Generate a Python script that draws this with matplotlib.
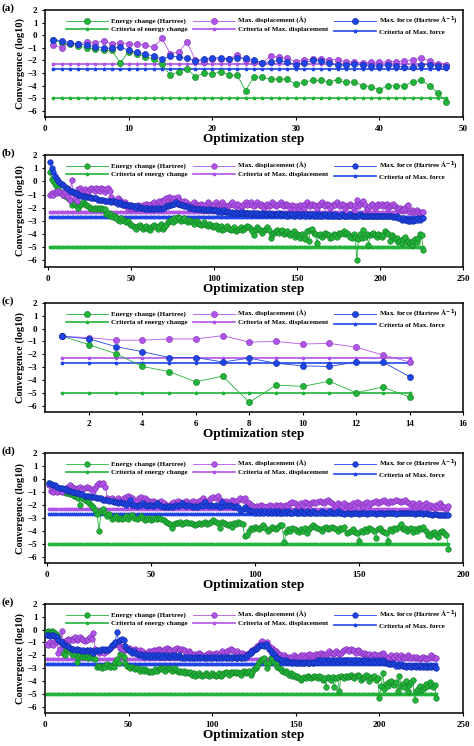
import matplotlib
matplotlib.use("Agg")
import matplotlib.pyplot as plt
import numpy as np

plt.rcParams['font.family'] = ['Liberation Serif', 'DejaVu Serif']
plt.rcParams['font.weight'] = 'bold'

# ---------------- Data ----------------
a_energy = [-0.4,-0.6,-0.7,-0.85,-1.0,-1.1,-1.2,-1.2,-2.2,-1.3,-1.5,-1.7,-1.9,-2.3,-3.2,-2.9,-2.7,-3.3,-3.0,-3.1,
            -2.9,-3.15,-3.2,-4.4,-3.3,-3.35,-3.5,-3.5,-3.5,-3.9,-3.7,-3.6,-3.6,-3.7,-3.55,-3.75,-3.7,-4.0,-4.1,-4.35,
            -4.0,-4.05,-4.0,-3.7,-3.6,-4.0,-4.6,-5.3]
a_disp = [-0.8,-1.0,-0.6,-0.7,-0.55,-0.6,-0.45,-0.7,-0.6,-0.7,-0.7,-0.8,-0.95,-0.25,-1.5,-1.3,-0.55,-2.0,-2.1,-1.9,
          -1.9,-1.9,-1.55,-2.0,-2.1,-2.2,-1.65,-1.75,-1.85,-2.1,-1.95,-1.9,-1.9,-1.95,-1.95,-2.1,-2.15,-2.2,-2.15,-2.15,
          -2.1,-2.1,-2.05,-1.95,-1.85,-2.05,-2.3,-2.35]
a_force = [-0.35,-0.45,-0.6,-0.7,-0.8,-0.9,-1.0,-1.05,-0.95,-1.2,-1.35,-1.5,-1.65,-1.9,-1.65,-1.75,-1.85,-2.05,-1.9,-1.8,
           -1.8,-1.9,-1.8,-1.85,-1.95,-2.2,-2.1,-2.0,-2.15,-2.35,-2.2,-2.0,-2.05,-2.2,-2.4,-2.35,-2.3,-2.4,-2.45,-2.45,
           -2.4,-2.45,-2.5,-2.55,-2.35,-2.35,-2.45,-2.55]

b_energy = [0.7,0.2,0.0,-0.2,-0.4,-0.6,-0.8,-0.9,-1.0,-1.1,
 -1.2,-1.3,-1.4,-1.8,-1.6,-1.7,-1.9,-2.0,-1.8,-1.7,
 -1.6,-1.7,-1.8,-1.9,-2.0,-2.0,-2.1,-2.0,-2.1,-2.0,
 -2.1,-2.0,-2.1,-2.1,-2.5,-2.4,-2.6,-2.5,-2.7,-2.6,
 -2.8,-2.9,-3.0,-2.8,-2.9,-3.0,-3.1,-3.0,-3.2,-3.3,
 -3.4,-3.5,-3.6,-3.4,-3.3,-3.5,-3.6,-3.5,-3.4,-3.6,
 -3.7,-3.5,-3.4,-3.3,-3.5,-3.6,-3.4,-3.2,-3.6,-3.5,
 -3.3,-3.1,-3.0,-2.9,-3.1,-2.8,-2.9,-2.7,-2.8,-3.0,
 -2.9,-2.8,-3.0,-3.1,-2.9,-3.0,-3.1,-3.2,-3.0,-3.1,
 -3.2,-3.3,-3.2,-3.1,-3.3,-3.4,-3.2,-3.3,-3.5,-3.4,
 -3.3,-3.6,-3.5,-3.4,-3.7,-3.6,-3.5,-3.4,-3.6,-3.7,
 -3.6,-3.5,-3.8,-3.7,-3.6,-3.5,-3.7,-3.6,-3.5,-3.4,
 -3.5,-3.6,-3.8,-4.1,-3.7,-3.5,-3.6,-3.8,-3.9,-3.7,
 -3.6,-3.5,-3.7,-4.3,-4.0,-3.9,-3.8,-3.7,-3.9,-3.8,
 -3.7,-4.0,-3.9,-3.8,-4.0,-4.1,-3.9,-3.8,-4.2,-4.0,
 -4.1,-4.3,-4.0,-4.2,-4.4,-3.8,-4.5,-3.7,-3.6,-3.9,
 -4.0,-4.7,-4.1,-4.0,-4.2,-4.1,-3.9,-4.0,-4.1,-4.3,
 -4.2,-4.0,-4.1,-4.2,-3.9,-4.0,-3.9,-3.8,-4.0,-3.9,
 -4.1,-4.2,-4.3,-4.0,-4.2,-6.0,-4.4,-4.0,-4.3,-3.7,
 -4.2,-4.0,-4.8,-4.1,-4.0,-3.9,-4.1,-4.2,-4.0,-4.1,
 -4.2,-4.1,-3.8,-3.9,-4.0,-4.5,-4.1,-4.2,-4.4,-4.3,
 -4.6,-4.5,-4.7,-4.4,-4.2,-4.6,-4.5,-4.7,-4.8,-4.5,
 -4.4,-4.6,-4.3,-4.0,-4.1,-5.2]
b_disp = [-1.0,-0.9,-1.0,-0.8,-0.9,-0.7,-0.8,-0.9,-1.0,-0.8,
 -1.0,-1.2,-1.4,0.1,-0.9,-1.3,-1.5,-0.6,-0.5,-0.7,
 -0.8,-0.6,-0.7,-0.8,-0.6,-0.5,-0.6,-0.7,-0.5,-0.6,
 -0.7,-0.5,-0.6,-0.8,-0.6,-0.5,-0.7,-1.2,-1.4,-1.6,
 -1.5,-1.3,-1.4,-1.7,-1.8,-1.6,-1.9,-2.0,-1.8,-2.1,
 -2.0,-1.9,-2.0,-1.8,-1.9,-2.0,-1.8,-1.9,-1.7,-1.8,
 -1.9,-1.7,-1.8,-1.6,-1.7,-1.8,-1.5,-1.6,-1.4,-1.5,
 -1.3,-1.4,-1.2,-1.3,-1.4,-1.3,-1.5,-1.2,-1.4,-1.6,
 -1.7,-1.5,-1.6,-1.8,-1.7,-1.9,-1.8,-1.6,-1.7,-1.8,
 -1.9,-1.7,-1.8,-2.0,-1.8,-1.6,-1.7,-1.9,-1.8,-1.7,
 -1.6,-1.8,-1.9,-1.7,-1.6,-1.8,-1.9,-2.0,-1.8,-1.7,
 -1.6,-1.8,-1.9,-1.7,-1.8,-2.0,-1.9,-1.7,-1.6,-1.8,
 -1.7,-1.6,-1.8,-1.9,-1.7,-1.6,-1.8,-1.7,-1.9,-2.0,
 -1.8,-1.7,-1.9,-1.8,-1.6,-1.7,-1.9,-1.8,-1.7,-1.6,
 -1.8,-1.9,-1.7,-1.8,-1.9,-2.0,-1.8,-1.9,-2.1,-1.9,
 -2.0,-1.8,-1.9,-2.0,-1.7,-1.6,-1.8,-1.9,-1.7,-1.8,
 -1.9,-2.0,-1.8,-1.7,-1.6,-1.8,-1.9,-1.7,-1.8,-2.0,
 -1.9,-1.7,-1.8,-1.6,-1.8,-1.9,-1.7,-1.8,-2.0,-1.9,
 -1.8,-1.7,-1.9,-2.0,-1.8,-1.4,-1.9,-1.7,-1.6,-1.5,
 -1.8,-2.1,-2.0,-1.9,-1.7,-1.8,-2.0,-1.9,-1.7,-1.8,
 -1.7,-1.9,-1.8,-1.7,-2.0,-1.9,-1.8,-1.7,-1.9,-2.0,
 -2.1,-2.0,-2.2,-2.1,-2.0,-1.9,-1.8,-2.3,-2.2,-2.3,
 -2.3,-2.2,-2.3,-2.4,-2.3,-2.3]
b_force = [1.5,1.0,0.7,0.4,0.2,0.0,-0.1,-0.2,-0.3,-0.4,
 -0.5,-0.6,-0.7,-0.7,-0.8,-0.9,-0.9,-1.0,-1.0,-1.1,
 -1.1,-1.1,-1.2,-1.2,-1.2,-1.3,-1.3,-1.3,-1.3,-1.4,
 -1.4,-1.4,-1.4,-1.5,-1.5,-1.5,-1.5,-1.6,-1.5,-1.6,
 -1.6,-1.7,-1.6,-1.7,-1.8,-1.7,-1.8,-1.8,-1.9,-1.8,
 -1.9,-1.9,-2.0,-1.9,-2.0,-2.0,-2.0,-2.1,-2.0,-2.1,
 -2.1,-2.0,-2.1,-2.1,-2.0,-2.1,-2.0,-2.1,-2.0,-2.0,
 -1.9,-1.9,-1.8,-1.8,-1.7,-1.7,-1.6,-1.7,-1.7,-1.8,
 -1.8,-1.9,-1.9,-1.9,-2.0,-2.0,-2.0,-2.1,-2.1,-2.1,
 -2.1,-2.1,-2.2,-2.1,-2.2,-2.2,-2.1,-2.2,-2.2,-2.2,
 -2.2,-2.3,-2.2,-2.3,-2.3,-2.2,-2.3,-2.3,-2.3,-2.4,
 -2.3,-2.4,-2.3,-2.4,-2.4,-2.4,-2.3,-2.4,-2.4,-2.4,
 -2.4,-2.5,-2.4,-2.4,-2.5,-2.4,-2.5,-2.5,-2.4,-2.5,
 -2.5,-2.5,-2.4,-2.5,-2.5,-2.5,-2.5,-2.5,-2.4,-2.5,
 -2.5,-2.5,-2.5,-2.6,-2.5,-2.5,-2.5,-2.6,-2.5,-2.5,
 -2.5,-2.6,-2.5,-2.5,-2.6,-2.5,-2.6,-2.5,-2.5,-2.6,
 -2.5,-2.6,-2.5,-2.6,-2.6,-2.5,-2.5,-2.6,-2.6,-2.5,
 -2.6,-2.6,-2.5,-2.6,-2.6,-2.6,-2.5,-2.6,-2.6,-2.6,
 -2.6,-2.5,-2.6,-2.6,-2.6,-2.6,-2.6,-2.5,-2.6,-2.6,
 -2.6,-2.6,-2.6,-2.6,-2.6,-2.6,-2.6,-2.6,-2.6,-2.6,
 -2.6,-2.6,-2.6,-2.6,-2.6,-2.6,-2.6,-2.7,-2.7,-2.6,
 -2.8,-2.8,-2.9,-2.8,-2.9,-2.9,-3.0,-3.0,-2.9,-3.0,
 -2.9,-2.9,-2.8,-2.9,-2.8,-2.8]

c_energy = [-0.6,-1.25,-1.95,-2.95,-3.35,-4.15,-3.7,-5.75,-4.4,-4.5,-4.1,-5.0,-4.55,-5.35]
c_disp = [-0.6,-0.7,-0.9,-0.9,-0.8,-0.8,-0.55,-1.05,-1.0,-1.2,-1.15,-1.45,-2.05,-2.6]
c_force = [-0.6,-0.8,-1.4,-1.8,-2.25,-2.25,-2.6,-2.3,-2.7,-2.9,-2.95,-2.6,-2.6,-3.75]

d_energy = [-0.3,-0.4,-0.5,-0.6,-0.7,-0.8,-0.9,-1.0,-1.1,-1.1,
 -1.2,-1.2,-1.3,-1.3,-1.5,-2.0,-1.5,-1.6,-1.7,-1.9,
 -2.0,-2.2,-2.4,-2.7,-4.0,-2.5,-2.3,-2.6,-2.9,-2.7,
 -3.1,-3.0,-2.9,-3.1,-3.0,-3.1,-3.0,-2.9,-3.1,-2.9,
 -2.8,-3.0,-3.1,-3.0,-2.9,-3.0,-3.2,-3.1,-3.0,-3.2,
 -3.1,-3.0,-3.1,-3.0,-3.1,-3.2,-3.3,-3.4,-3.5,-3.8,
 -3.5,-3.4,-3.4,-3.3,-3.5,-3.4,-3.3,-3.4,-3.4,-3.5,
 -3.6,-3.5,-3.4,-3.5,-3.4,-3.3,-3.5,-3.4,-3.3,-3.2,
 -3.3,-3.4,-3.8,-3.3,-3.4,-3.5,-3.6,-3.5,-3.7,-3.4,
 -3.5,-3.3,-3.4,-3.5,-4.4,-4.3,-4.0,-3.8,-3.9,-3.7,
 -3.8,-3.9,-3.7,-3.6,-3.8,-4.0,-3.9,-3.7,-3.8,-3.9,
 -3.7,-3.6,-3.6,-4.9,-4.1,-3.9,-4.0,-3.8,-3.9,-4.0,
 -4.1,-3.9,-4.0,-3.8,-4.2,-3.9,-3.7,-3.6,-3.7,-3.8,
 -3.9,-4.0,-3.8,-3.7,-3.9,-3.8,-3.7,-3.8,-3.9,-4.0,
 -3.8,-3.9,-3.7,-4.2,-4.1,-4.0,-3.9,-4.1,-4.2,-4.8,
 -4.0,-4.1,-3.9,-4.0,-3.8,-3.9,-4.0,-4.6,-3.9,-3.8,
 -4.0,-4.1,-4.2,-4.8,-3.9,-4.0,-3.8,-3.9,-3.7,-3.5,
 -3.9,-3.8,-4.0,-3.9,-3.8,-4.1,-3.9,-4.0,-3.8,-3.9,
 -3.7,-4.0,-4.3,-4.4,-4.2,-4.1,-4.3,-4.5,-4.1,-4.0,
 -4.2,-4.3,-5.4]
d_disp = [-0.5,-0.9,-1.0,-0.8,-1.0,-0.9,-1.0,-0.8,-0.7,-0.6,
 -0.5,-0.6,-0.7,-0.8,-0.7,-0.6,-0.8,-0.7,-0.6,-0.7,
 -0.8,-0.9,-0.7,-0.5,-0.3,-0.4,-0.3,-0.6,-1.5,-1.6,
 -1.5,-1.6,-1.7,-1.5,-1.6,-1.7,-1.5,-1.4,-1.3,-1.4,
 -1.5,-1.6,-1.7,-1.5,-1.4,-1.6,-1.5,-1.6,-1.7,-1.8,
 -1.7,-1.8,-1.9,-1.8,-1.7,-1.9,-2.0,-2.1,-2.0,-1.9,
 -1.8,-1.9,-1.7,-1.8,-1.9,-1.8,-1.7,-1.9,-1.8,-1.7,
 -1.8,-1.9,-1.7,-1.6,-1.5,-1.7,-1.8,-1.6,-1.5,-1.4,
 -1.5,-1.3,-1.6,-1.7,-1.8,-1.7,-1.9,-1.8,-1.6,-1.7,
 -1.8,-1.6,-1.5,-1.6,-1.5,-1.8,-1.9,-2.0,-2.1,-2.2,
 -2.1,-2.2,-2.0,-2.1,-2.2,-2.1,-2.0,-2.1,-2.2,-2.0,
 -2.1,-2.0,-2.1,-2.2,-2.0,-2.1,-1.9,-1.8,-1.9,-2.0,
 -2.1,-1.9,-2.0,-1.8,-1.9,-2.0,-1.9,-1.8,-1.9,-1.8,
 -1.7,-1.8,-1.9,-1.7,-1.6,-1.8,-1.9,-2.0,-2.1,-1.9,
 -2.0,-2.1,-1.9,-2.0,-2.1,-2.0,-1.9,-2.0,-1.8,-1.9,
 -2.0,-2.1,-1.9,-1.8,-2.0,-1.9,-1.8,-1.7,-1.9,-1.8,
 -1.7,-1.6,-1.8,-1.9,-1.7,-1.8,-1.7,-1.6,-1.7,-1.8,
 -1.7,-1.6,-1.8,-1.9,-2.0,-1.9,-2.1,-2.0,-1.9,-2.1,
 -2.0,-1.9,-2.1,-2.0,-2.1,-2.2,-2.0,-2.1,-1.9,-2.1,
 -2.2,-2.3,-2.1]
d_force = [-0.3,-0.4,-0.5,-0.5,-0.6,-0.7,-0.7,-0.8,-0.8,-0.9,
 -0.9,-1.0,-1.0,-1.1,-1.1,-1.2,-1.2,-1.3,-1.3,-1.3,
 -1.4,-1.4,-1.4,-1.5,-1.5,-1.5,-1.6,-1.6,-1.6,-1.7,
 -1.7,-1.8,-1.8,-1.9,-1.8,-1.9,-1.9,-2.0,-1.9,-1.6,
 -2.0,-2.0,-2.1,-2.0,-2.0,-1.9,-2.0,-2.1,-2.0,-2.0,
 -2.1,-2.0,-1.9,-2.0,-2.1,-2.2,-2.1,-2.2,-2.1,-2.2,
 -2.1,-2.0,-2.1,-2.0,-1.9,-2.0,-2.1,-2.0,-2.1,-2.2,
 -2.1,-2.2,-2.1,-2.0,-2.1,-1.8,-2.0,-2.1,-2.0,-2.1,
 -2.0,-2.1,-2.2,-1.8,-2.1,-2.0,-2.1,-2.0,-2.1,-2.2,
 -2.1,-2.2,-2.4,-2.3,-2.2,-2.3,-2.4,-2.5,-2.5,-2.6,
 -2.5,-2.6,-2.5,-2.6,-2.5,-2.6,-2.5,-2.6,-2.5,-2.6,
 -2.5,-2.6,-2.6,-2.5,-2.6,-2.5,-2.6,-2.6,-2.5,-2.6,
 -2.6,-2.5,-2.6,-2.6,-2.5,-2.6,-2.6,-2.5,-2.6,-2.6,
 -2.6,-2.5,-2.6,-2.6,-2.6,-2.5,-2.6,-2.6,-2.6,-2.5,
 -2.6,-2.6,-2.7,-2.6,-2.6,-2.7,-2.6,-2.6,-2.6,-2.7,
 -2.6,-2.6,-2.6,-2.7,-2.6,-2.6,-2.6,-2.7,-2.6,-2.6,
 -2.6,-2.7,-2.6,-2.6,-2.6,-2.6,-2.6,-2.7,-2.6,-2.6,
 -2.6,-2.6,-2.6,-2.6,-2.6,-2.6,-2.7,-2.6,-2.6,-2.6,
 -2.7,-2.6,-2.7,-2.7,-2.8,-2.7,-2.7,-2.8,-2.8,-2.8,
 -2.8,-2.8,-2.8]

e_energy = [-0.2,-0.1,-0.2,-0.1,-0.2,-0.3,-0.4,-0.6,-1.0,-1.5,
 -1.8,-2.0,-1.6,-1.5,-1.7,-1.9,-2.0,-1.8,-2.5,-2.1,
 -2.0,-2.1,-2.0,-2.1,-2.0,-2.2,-2.1,-2.0,-2.2,-2.3,
 -2.9,-2.8,-2.9,-3.0,-2.8,-2.9,-2.7,-2.8,-2.9,-2.8,
 -2.9,-2.5,-2.3,-2.6,-1.9,-1.8,-2.1,-2.6,-2.8,-2.9,
 -3.0,-2.9,-3.0,-3.1,-3.0,-3.1,-3.2,-3.1,-3.2,-3.1,
 -3.2,-3.3,-3.2,-3.3,-3.2,-3.1,-3.2,-3.1,-3.0,-3.1,
 -3.0,-3.2,-3.1,-3.0,-3.1,-3.2,-3.1,-3.0,-3.2,-3.3,
 -3.2,-3.3,-3.2,-3.4,-3.3,-3.4,-3.3,-3.5,-3.4,-3.6,
 -3.5,-3.4,-3.5,-3.6,-3.5,-3.4,-3.5,-3.6,-3.5,-3.4,
 -3.5,-3.6,-3.5,-3.4,-3.6,-3.5,-3.4,-3.3,-3.4,-3.5,
 -3.3,-3.4,-3.3,-3.4,-3.3,-3.4,-3.5,-3.3,-3.2,-3.4,
 -3.3,-3.2,-3.5,-3.3,-3.1,-3.0,-2.8,-2.5,-2.4,-2.3,
 -2.2,-2.6,-3.0,-2.6,-2.2,-2.3,-2.5,-2.7,-2.9,-3.0,
 -3.1,-3.2,-3.3,-3.2,-3.4,-3.5,-3.4,-3.6,-3.5,-3.7,
 -3.6,-3.8,-3.9,-3.8,-3.7,-3.8,-3.6,-3.7,-3.8,-3.7,
 -3.6,-3.7,-3.8,-3.6,-3.7,-3.9,-3.8,-4.5,-3.7,-3.8,
 -3.9,-3.7,-4.5,-3.8,-3.7,-4.8,-3.6,-3.7,-3.8,-3.6,
 -3.7,-3.6,-3.5,-3.7,-3.8,-3.6,-3.5,-3.6,-3.9,-3.8,
 -3.7,-3.5,-3.6,-4.0,-3.8,-3.7,-3.6,-3.9,-3.8,-5.3,
 -4.4,-3.4,-4.6,-4.2,-4.4,-4.1,-4.0,-4.2,-4.3,-4.1,
 -4.8,-3.6,-4.4,-4.2,-4.5,-4.0,-4.8,-4.3,-4.1,-3.9,
 -5.5,-4.8,-4.6,-4.4,-4.7,-4.6,-4.5,-4.2,-4.4,-4.1,
 -4.3,-4.5,-4.3,-5.3]
e_disp = [-1.1,-1.2,-1.0,-1.1,-1.2,-0.9,-1.0,-1.8,-1.5,-0.1,
 -1.0,-0.9,-0.8,-0.7,-0.8,-0.7,-0.8,-0.6,-0.8,-0.7,
 -0.6,-0.7,-0.8,-0.9,-0.8,-0.7,-0.6,-0.7,-0.3,-1.5,
 -1.7,-1.8,-1.6,-1.7,-1.8,-1.6,-1.7,-1.5,-1.4,-1.3,
 -1.2,-1.1,-1.0,-1.2,-1.4,-1.5,-1.3,-1.6,-1.5,-1.4,
 -1.5,-1.7,-1.6,-1.5,-1.7,-1.8,-1.6,-1.7,-1.8,-1.9,
 -1.8,-1.7,-1.8,-1.7,-1.6,-1.7,-1.6,-1.5,-1.6,-1.7,
 -1.6,-1.5,-1.4,-1.5,-1.6,-1.7,-1.6,-1.5,-1.4,-1.5,
 -1.6,-1.5,-1.6,-1.7,-1.8,-1.7,-1.8,-1.9,-2.0,-1.9,
 -2.0,-1.8,-1.9,-2.0,-2.1,-2.0,-1.9,-1.8,-1.9,-2.0,
 -1.9,-1.8,-1.9,-2.0,-1.8,-1.7,-1.8,-1.9,-1.7,-1.6,
 -1.5,-1.6,-1.7,-1.8,-1.7,-1.8,-1.9,-1.8,-1.9,-2.0,
 -1.9,-1.8,-1.7,-1.6,-1.5,-1.4,-1.3,-1.2,-1.0,-0.9,
 -1.1,-1.2,-1.0,-1.3,-1.5,-1.4,-1.6,-1.7,-1.8,-1.9,
 -2.0,-2.1,-2.0,-2.1,-2.2,-2.1,-2.2,-2.1,-2.0,-2.1,
 -2.2,-2.1,-2.0,-2.1,-2.0,-2.1,-2.0,-1.9,-2.0,-2.1,
 -2.0,-1.9,-2.0,-1.9,-1.8,-1.9,-2.0,-1.9,-1.8,-1.7,
 -1.8,-1.9,-1.8,-1.7,-1.8,-1.9,-1.8,-1.7,-1.6,-1.5,
 -1.6,-1.7,-1.5,-1.6,-1.7,-1.8,-1.6,-1.7,-1.8,-1.9,
 -1.8,-1.9,-2.0,-1.9,-2.1,-2.0,-1.9,-2.0,-2.1,-2.0,
 -1.9,-1.8,-2.0,-2.1,-2.2,-2.1,-2.0,-2.2,-2.1,-2.0,
 -2.1,-2.2,-2.0,-2.1,-2.2,-2.1,-2.0,-2.1,-2.2,-2.1,
 -2.2,-2.1,-2.2,-2.3,-2.2,-2.1,-2.2,-2.3,-2.2,-2.1,
 -2.0,-2.1,-2.2,-2.2]
e_force = [-0.4,-0.4,-0.5,-0.4,-0.4,-0.5,-0.6,-0.8,-0.9,-1.0,
 -1.1,-1.2,-1.3,-1.3,-1.4,-1.5,-1.5,-1.6,-1.5,-1.6,
 -1.6,-1.7,-1.6,-1.7,-1.6,-1.7,-1.6,-1.7,-1.8,-1.7,
 -1.6,-1.7,-1.6,-1.5,-1.6,-1.5,-1.6,-1.5,-1.4,-1.2,
 -1.1,-1.0,-0.2,-0.9,-0.8,-0.7,-0.8,-1.3,-1.5,-1.6,
 -1.7,-1.8,-1.7,-1.8,-1.9,-2.0,-1.9,-2.0,-2.1,-2.0,
 -2.0,-2.1,-2.0,-2.1,-2.0,-2.1,-2.0,-2.1,-2.0,-2.1,
 -2.0,-2.1,-2.0,-2.1,-2.1,-2.0,-2.1,-2.0,-2.1,-2.0,
 -2.1,-2.2,-2.1,-2.2,-2.1,-2.2,-2.1,-2.2,-2.2,-2.1,
 -2.2,-2.1,-2.2,-2.1,-2.2,-2.2,-2.1,-2.2,-2.1,-2.2,
 -2.1,-2.2,-2.1,-2.2,-2.1,-2.2,-2.1,-2.2,-2.1,-2.2,
 -2.1,-2.2,-2.1,-2.2,-2.2,-2.1,-2.2,-2.1,-2.2,-2.1,
 -2.0,-1.9,-1.8,-1.7,-1.6,-1.5,-1.4,-1.3,-1.2,-1.2,
 -1.3,-1.1,-1.3,-1.5,-1.7,-1.8,-1.9,-2.1,-2.2,-2.3,
 -2.4,-2.4,-2.5,-2.4,-2.5,-2.5,-2.5,-2.6,-2.5,-2.6,
 -2.5,-2.6,-2.5,-2.6,-2.6,-2.5,-2.6,-2.6,-2.5,-2.6,
 -2.5,-2.5,-2.4,-2.5,-2.4,-2.5,-2.4,-2.5,-2.4,-2.4,
 -2.5,-2.4,-2.5,-2.4,-2.5,-2.4,-2.4,-2.5,-2.4,-2.4,
 -2.4,-2.5,-2.4,-2.5,-2.4,-2.4,-2.5,-2.4,-2.5,-2.4,
 -2.4,-2.5,-2.4,-2.5,-2.5,-2.4,-2.5,-2.5,-2.4,-2.5,
 -2.5,-2.4,-2.5,-2.6,-2.6,-2.7,-2.7,-2.6,-2.7,-2.8,
 -2.7,-2.8,-2.7,-2.8,-2.8,-2.9,-2.8,-2.8,-2.9,-2.8,
 -2.8,-2.9,-2.8,-2.9,-2.8,-2.9,-2.8,-2.9,-2.9,-2.8,
 -2.9,-2.8,-2.9,-3.0]

crit_energy = -5.0
crit_disp = -2.3
crit_force = -2.7

panel_labels = ['(a)', '(b)', '(c)', '(d)', '(e)']
panels = [(a_energy, a_disp, a_force), (b_energy, b_disp, b_force), (c_energy, c_disp, c_force),
          (d_energy, d_disp, d_force), (e_energy, e_disp, e_force)]
xticks_list = [[0, 10, 20, 30, 40, 50], [0, 50, 100, 150, 200, 250], [2, 4, 6, 8, 10, 12, 14, 16],
               [0, 50, 100, 150, 200], [0, 50, 100, 150, 200, 250]]
xlims = [(0, 50), (-2, 250), (0.35, 16), (-1, 200), (0, 250)]

legend_names = ['Energy change (Hartree)', 'Criteria of energy change',
                'Max. displacement (Å)', 'Criteria of Max. displacement',
                'Max. force (Hartree Å$^{-1}$)', 'Criteria of Max. force']

# ---------------- Styling ----------------
W, H = 474, 746
fig = plt.figure(figsize=(W / 100, H / 100), dpi=100)
green, purple, blue = '#22b33a', '#b155e8', '#1f45e6'
green_edge, purple_edge, blue_edge = '#137a22', '#7a2bb0', '#0d2599'
tops = [10, 155, 303, 453, 604]
bots = [117, 267, 412, 563, 713]
left, right = 45, 463

for i, (en, dp, fo) in enumerate(panels):
    ax = fig.add_axes([left / W, 1 - bots[i] / H, (right - left) / W, (bots[i] - tops[i]) / H])
    x = np.arange(1, len(en) + 1)
    ms = 4.4 if len(en) < 60 else 4.0
    he, = ax.plot(x, en, '-', color=green, lw=0.6, marker='o', ms=ms, mfc=green, mec=green_edge, mew=0.4, zorder=3)
    hd, = ax.plot(x, dp, '-', color=purple, lw=0.6, marker='o', ms=ms, mfc=purple, mec=purple_edge, mew=0.4, zorder=3)
    hf, = ax.plot(x, fo, '-', color=blue, lw=0.6, marker='o', ms=ms, mfc=blue, mec=blue_edge, mew=0.4, zorder=3)
    hce, = ax.plot(x, [crit_energy] * len(x), '-', color=green, lw=1.2, marker='*', ms=2.5, zorder=2)
    hcd, = ax.plot(x, [crit_disp] * len(x), '-', color=purple, lw=1.2, marker='*', ms=2.5, zorder=2)
    hcf, = ax.plot(x, [crit_force] * len(x), '-', color=blue, lw=1.2, marker='*', ms=2.5, zorder=2)
    ax.set_ylim(-6.5, 2)
    ax.set_yticks(range(-6, 3))
    ax.set_xlim(*xlims[i])
    ax.set_xticks(xticks_list[i])
    ax.tick_params(labelsize=6.5, length=2, width=0.8)
    for t in ax.get_xticklabels() + ax.get_yticklabels():
        t.set_fontweight('bold')
    for s in ax.spines.values():
        s.set_linewidth(1.1)
    ax.set_ylabel('Convergence (log10)', fontsize=7.5, fontweight='bold', labelpad=2)
    ax.set_xlabel('Optimization step', fontsize=9.5, fontweight='bold', labelpad=0)
    ax.legend([he, hce, hd, hcd, hf, hcf], legend_names, ncol=3, loc='upper right',
              handlelength=6, columnspacing=0.8,
              handletextpad=0.5, labelspacing=0.3, borderaxespad=0.3, frameon=False,
              prop={'size': 5, 'weight': 'bold'})
    fig.text(2 / W, 1 - (tops[i] - 2) / H, panel_labels[i], fontsize=8, fontweight='bold', va='center')

fig.savefig('out.png', dpi=100)
